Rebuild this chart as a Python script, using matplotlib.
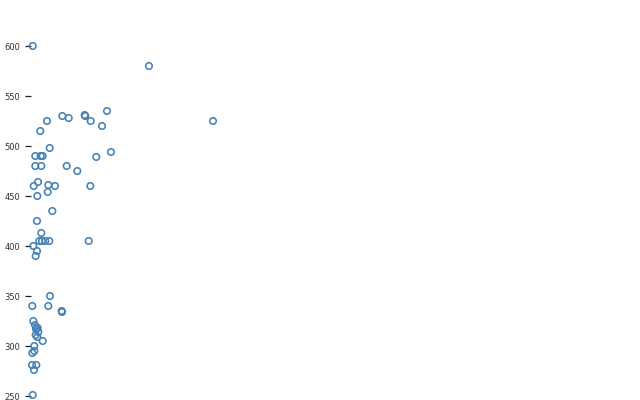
import matplotlib
matplotlib.use("Agg")
import matplotlib.pyplot as plt

# horizontal position (arbitrary units, no x axis shown)
x_vals = [1.7, 118, 182, 76, 31.3, 37.7, 53.7, 54.2, 59.7, 16, 71, 9.3, 18.7,
          4.3, 9.7, 11.7, 65.3, 80, 4.3, 10.3, 35.7, 46.3, 7, 2.7, 17.3, 24,
          59.3, 16.7, 6.3, 21.3,
          6, 10.3, 8.3, 11, 14.3, 18.3, 57.7, 2.3, 6, 4.7,
          19, 1.3, 17.3, 30.7, 31, 2.3, 4, 5.7, 6.7, 5, 7.3, 4.7, 6.3,
          11.7, 3.3, 3.3, 1.3, 1, 5.3, 3, 1.7]
# score values
y_vals = [600, 580, 525, 535, 530, 528, 531, 530, 525, 525, 520, 515, 498,
          490, 490, 490, 489, 494, 480, 480, 480, 475, 464, 460, 461, 460,
          460, 454, 450, 435,
          425, 413, 405, 405, 405, 405, 405, 400, 395, 390,
          350, 340, 340, 335, 334, 325, 321, 318, 318, 317, 314, 311, 309,
          305, 300, 295, 293, 281, 281, 276, 251]

fig = plt.figure(figsize=(6.4, 4.0), dpi=100)
ax = fig.add_axes([31 / 640, 2 / 400, 599 / 640, 354 / 400])
ax.scatter(x_vals, y_vals, s=22, facecolors="none", edgecolors="#4682b4",
           linewidths=1.15, clip_on=False, zorder=3)
ax.set_xlim(0, 599)
ax.set_ylim(248, 602)
ax.set_yticks([250, 300, 350, 400, 450, 500, 550, 600])
ax.tick_params(axis="y", length=4, width=0.9, color="#222222", pad=3.5,
               labelsize=6, labelcolor="#333333")
ax.set_xticks([])
for s in ax.spines.values():
    s.set_visible(False)
ax.patch.set_alpha(0)
fig.savefig("out.png", dpi=100)
